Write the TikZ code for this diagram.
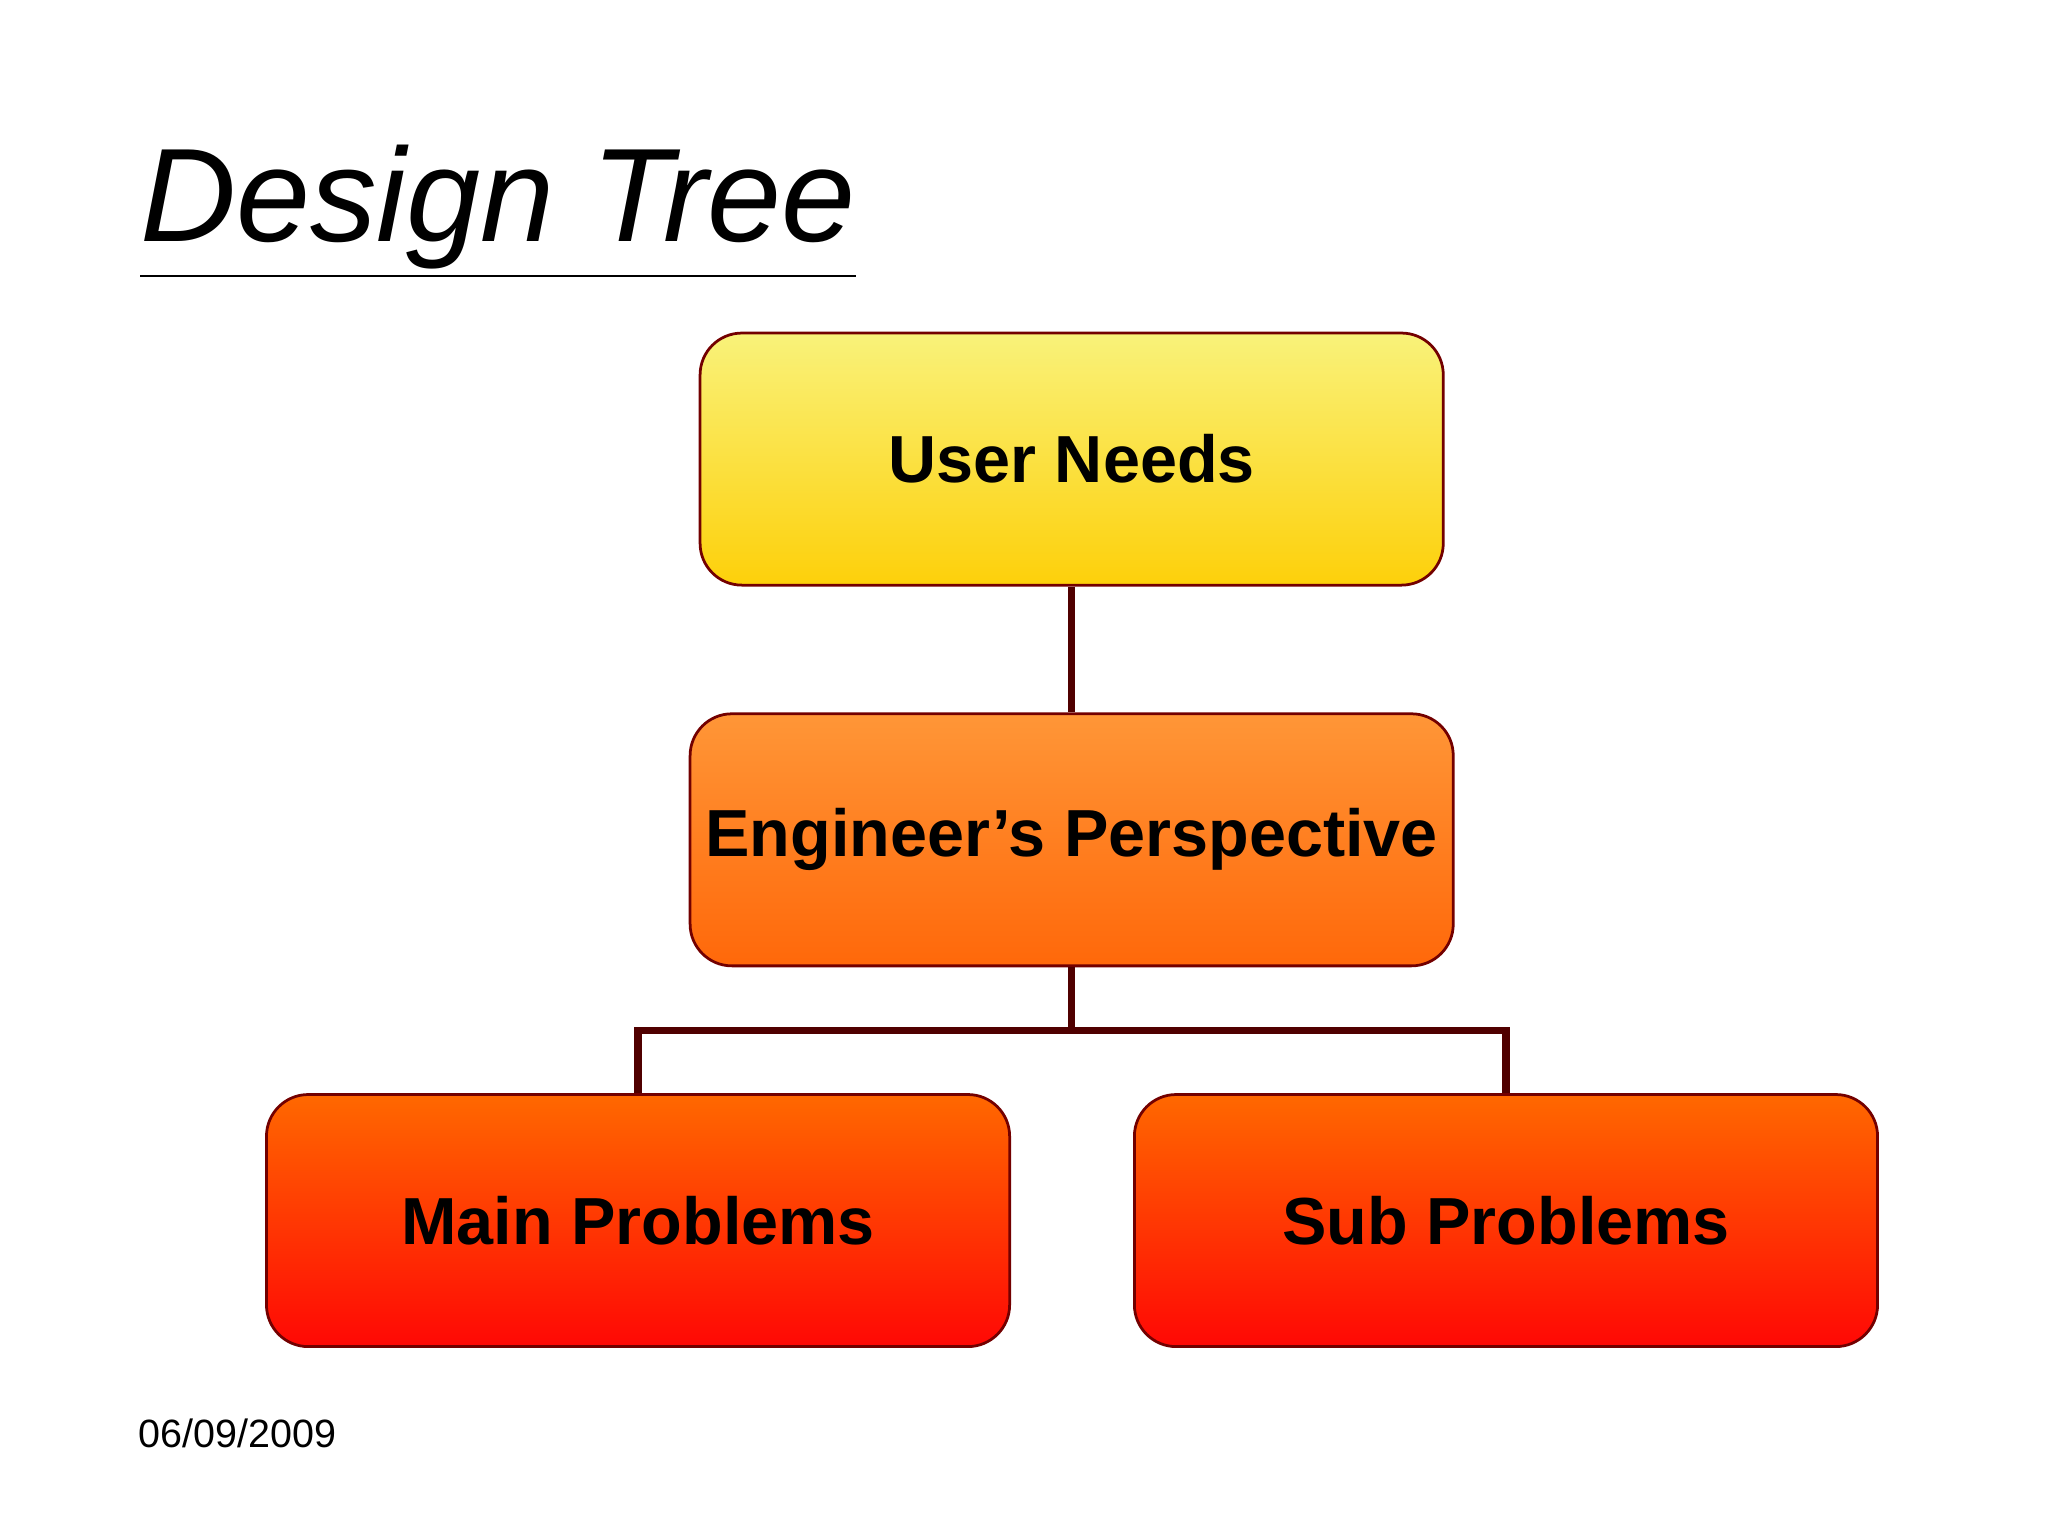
\documentclass[tikz,border=0pt]{standalone}
\usepackage{fontspec}
\setmainfont{Liberation Sans}
\begin{document}
\begin{tikzpicture}[x=1cm,y=-1cm,
  box/.style={draw=red!45!black,line width=0.6pt,rounded corners=0.32cm,minimum width=5.69cm,minimum height=1.93cm,font=\fontsize{14.5}{17}\selectfont\bfseries},
  yel/.style={top color={rgb,255:red,249;green,242;blue,122},bottom color={rgb,255:red,253;green,208;blue,10}},
  ora/.style={top color={rgb,255:red,255;green,150;blue,55},bottom color={rgb,255:red,255;green,104;blue,10}},
  rd/.style={top color={rgb,255:red,255;green,104;blue,0},bottom color={rgb,255:red,255;green,8;blue,5}},
  conn/.style={draw={rgb,255:red,80;green,0;blue,0},line width=1.6pt}]
\useasboundingbox (0,0) rectangle (15.68,11.76);
\node[anchor=base west,font=\fontsize{29}{34}\selectfont\itshape] (title) at (0.95,1.85) {\underline{Design Tree}};
\node[anchor=base west,font=\fontsize{8.6}{10}\selectfont] (date) at (0.94,11.08) {06/09/2009};
\node[box,yel] (un) at (8.205,3.515) {User Needs};
\node[box,ora] (ep) at (8.205,6.43) {Engineer’s Perspective};
\node[box,rd] (mp) at (4.885,9.345) {Main Problems};
\node[box,rd] (sp) at (11.53,9.345) {Sub Problems};
\coordinate (j) at (8.205,7.89);
\draw[conn] (un) -- (ep);
\draw[conn] (ep) -- (j);
\draw[conn] (mp.north) -- (mp.north |- j) -- (sp.north |- j) -- (sp.north);
\end{tikzpicture}
\end{document}
